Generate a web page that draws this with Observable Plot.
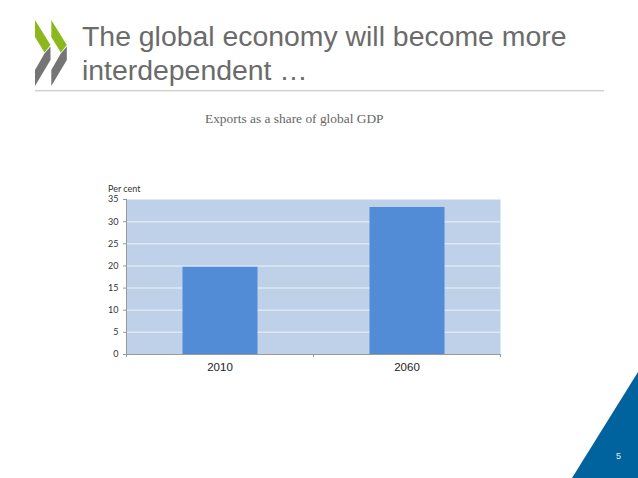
<!DOCTYPE html>
<html><head><meta charset="utf-8">
<script src="https://cdn.jsdelivr.net/npm/d3@7"></script>
<script src="https://cdn.jsdelivr.net/npm/@observablehq/plot@0.6"></script>
<style>
html,body{margin:0;padding:0;background:#fff;width:638px;height:478px;overflow:hidden}
#page{position:relative;width:638px;height:478px}
#page>*{position:absolute}
#chart{left:0;top:0}
#chart svg{display:block;background:transparent}
#title{left:82px;top:19px;font:28.4px/34px "Liberation Sans",Arial,sans-serif;color:#6b6b6b;white-space:nowrap}
#sub{left:205px;top:110px;font:13.4px/18px "Liberation Serif",serif;color:#666;white-space:nowrap}
#percent{left:108px;top:183px;font:9px/11px Lato,sans-serif;color:#333;white-space:nowrap}
#num{left:616px;top:450px;font:9px/12px "Liberation Sans",sans-serif;color:#e8f0f6}
#deco{left:0;top:0}
</style></head><body>
<div id="page">
<svg id="deco" width="638" height="478">
  <polygon points="572,478 638,372 638,478" fill="#00639e"/>
  <rect x="35" y="90" width="569" height="1.4" fill="#cfcfcf"/>
  <g id="chev">
    <polygon points="35,20 50.5,45 44.5,52.5 35,37" fill="#8cb81c"/>
    <polygon points="50.5,46.5 50.5,60 35,86 35,70 44.5,53.5" fill="#757575"/>
  </g>
  <g transform="translate(16.3,0)">
    <polygon points="35,20 50.5,45 44.5,52.5 35,37" fill="#8cb81c"/>
    <polygon points="50.5,46.5 50.5,60 35,86 35,70 44.5,53.5" fill="#757575"/>
  </g>
</svg>
<div id="chart"></div>
<div id="title">The global economy will become more<br>interdependent …</div>
<div id="sub">Exports as a share of global GDP</div>
<div id="percent">Per cent</div>
<div id="num">5</div>
</div>
<script>
const years = ["2010", "2060"];
const exportsShare = [19.7, 33.2];
const yTicks = [0, 5, 10, 15, 20, 25, 30, 35];
const gridTicks = [5, 10, 15, 20, 25, 30];
const rows = years.map((year, i) => ({year, share: exportsShare[i]}));
const chart = Plot.plot({
  width: 638, height: 478,
  marginLeft: 126, marginRight: 138, marginTop: 199, marginBottom: 124,
  style: {background: "transparent"},
  x: {domain: years, padding: 0, label: null},
  y: {domain: [0, 35], ticks: yTicks, label: null},
  marks: [
    Plot.frame({fill: "#bfd1e8", stroke: null}),
    Plot.ruleY(gridTicks, {stroke: "#dde7f3", strokeWidth: 1.5}),
    Plot.barY(rows, {x: "year", y: "share", fill: "#528bd6", insetLeft: 56.5, insetRight: 55.5}),
    Plot.ruleY([0], {stroke: "#999", strokeWidth: 1}),
    Plot.ruleX([years[0]], {x: d => d, dx: -93.5, stroke: "#999"}),
    Plot.axisY({ticks: yTicks, tickSize: 3, tickPadding: 5, stroke: "#999",
      fontSize: 9, fontFamily: "Lato", color: "#333", label: null}),
    Plot.axisX({tickSize: 0, tickPadding: 8, fontSize: 11.5, fontFamily: "Liberation Sans", color: "#222", label: null}),
    Plot.ruleX(years, {x: d => d, dx: -93.5, y1: 0, y2: -0.7, stroke: "#999"}),
    Plot.ruleX([years[1]], {x: d => d, dx: 93.5, y1: 0, y2: -0.7, stroke: "#999"})
  ]
});
document.getElementById("chart").append(chart);
</script>
</body></html>
